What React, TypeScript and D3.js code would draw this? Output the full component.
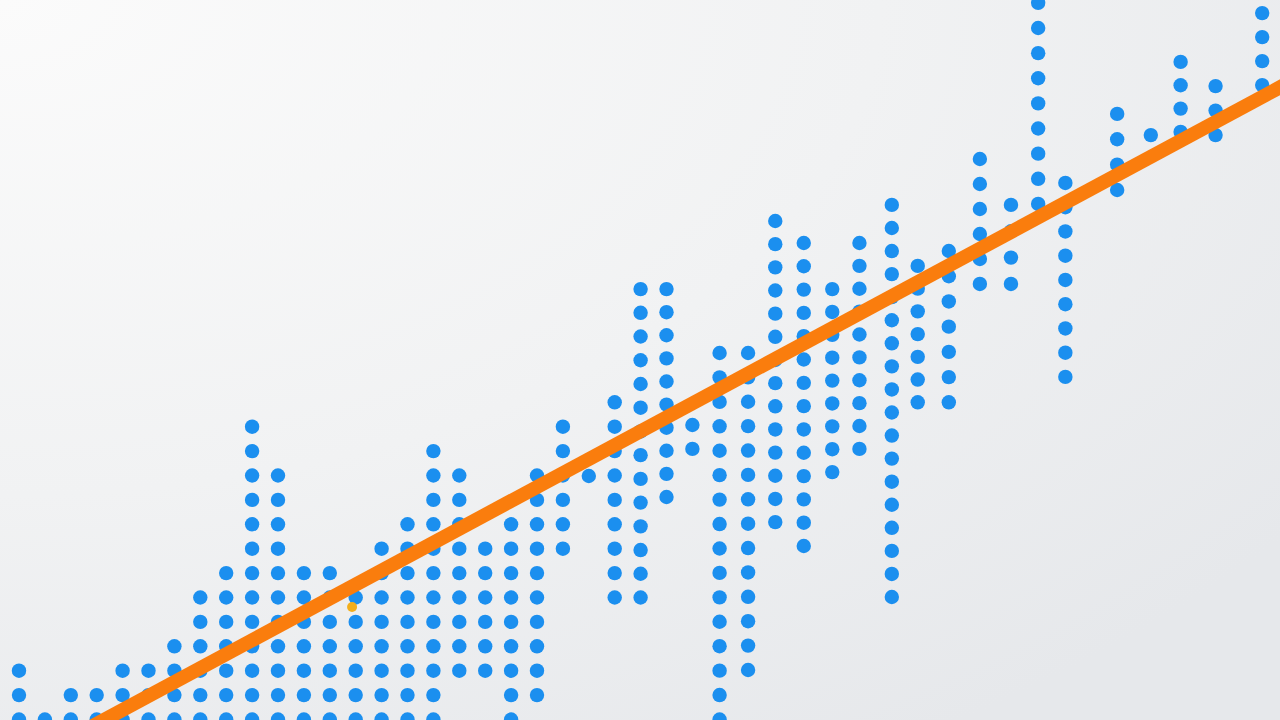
import React from "react";
import * as d3 from "d3";

// Column positions (column units) and dot stacks (level units)
const colX = [0, 1, 2, 3, 4, 5, 6, 7, 8, 9, 10, 11, 12, 13, 14, 15, 16, 17, 18, 19, 20, 21, 22, 23, 24, 25, 26,
  27.05, 28.15, 29.2, 30.3, 31.4, 32.45, 33.7, 34.7, 35.9, 37.1, 38.3, 39.35, 40.4, 42.4, 43.7, 44.85, 46.2, 48];
const colLo = [0, 0, 0, 0, 0, 0, 0, 0, 0, 0, 0, 0, 0, 0, 0, 0, 0, 2, 2, 0, 1, 7, 9.98, 5, 5, 9.12, 11.09,
  0, 2.03, 8.09, 7.11, 10.14, 11.09, 5.02, 13.0, 13.0, 17.85, 17.85, 21.13, 14.04, 21.7, 23.95, 24.08, 23.95, 26.0];
const colHi = [2, 0, 1, 1, 2, 2, 3, 5, 6, 12, 10, 6, 6, 5, 7, 8, 11, 10, 7, 8, 10, 12, 9.98, 13, 17.64, 17.64, 12.07,
  15.02, 15.02, 20.43, 19.53, 17.64, 19.53, 21.09, 18.59, 19.2, 22.97, 21.09, 29.37, 21.99, 24.82, 23.95, 26.95, 25.96, 28.95];
const colN = [3, 1, 2, 2, 3, 3, 4, 6, 7, 13, 11, 7, 7, 6, 8, 9, 12, 9, 6, 9, 10, 6, 1, 9, 14, 10, 2,
  16, 14, 14, 14, 9, 10, 18, 7, 7, 6, 4, 9, 9, 4, 1, 4, 3, 4];

// Trend line (two end points)
const trendX = [2, 50];
const trendY = [-0.75, 26.66];

// Odd highlighted point
const accentX = [12.86];
const accentY = [4.61];

const W = 1280;
const H = 720;

export default function App() {
  const x = d3.scaleLinear().domain([0, 48]).range([19, 19 + 48 * 25.9]);
  const y = d3.scaleLinear().domain([0, 30]).range([719.5, 719.5 - 30 * 24.4]);

  const dots: { cx: number; cy: number; key: string }[] = [];
  colX.forEach((cx, i) => {
    const n = colN[i];
    for (let k = 0; k < n; k++) {
      const v = n === 1 ? colLo[i] : colLo[i] + ((colHi[i] - colLo[i]) * k) / (n - 1);
      dots.push({ cx: x(cx), cy: y(v), key: `${i}-${k}` });
    }
  });

  const line = d3
    .line<number>()
    .x((_, i) => x(trendX[i]))
    .y((d) => y(d));

  return (
    <svg
      width={W}
      height={H}
      style={{ position: "fixed", left: 0, top: 0, display: "block" }}
    >
      <defs>
        <radialGradient id="bg" cx="0" cy="0" r="1.25" gradientUnits="objectBoundingBox">
          <stop offset="0" stopColor="#fbfbfb" />
          <stop offset="0.55" stopColor="#f1f2f3" />
          <stop offset="1" stopColor="#e6e8eb" />
        </radialGradient>
      </defs>
      <rect x={0} y={0} width={W} height={H} fill="url(#bg)" />
      <g>
        {dots.map((d) => (
          <circle key={d.key} cx={d.cx} cy={d.cy} r={7.2} fill="#1b8fef" />
        ))}
      </g>
      {accentX.map((ax, i) => (
        <circle key={`a${i}`} cx={x(ax)} cy={y(accentY[i])} r={5} fill="#f2ae1c" />
      ))}
      <path
        d={line(trendY) || ""}
        fill="none"
        stroke="#fa7d0d"
        strokeWidth={14}
        strokeLinecap="butt"
      />
    </svg>
  );
}
